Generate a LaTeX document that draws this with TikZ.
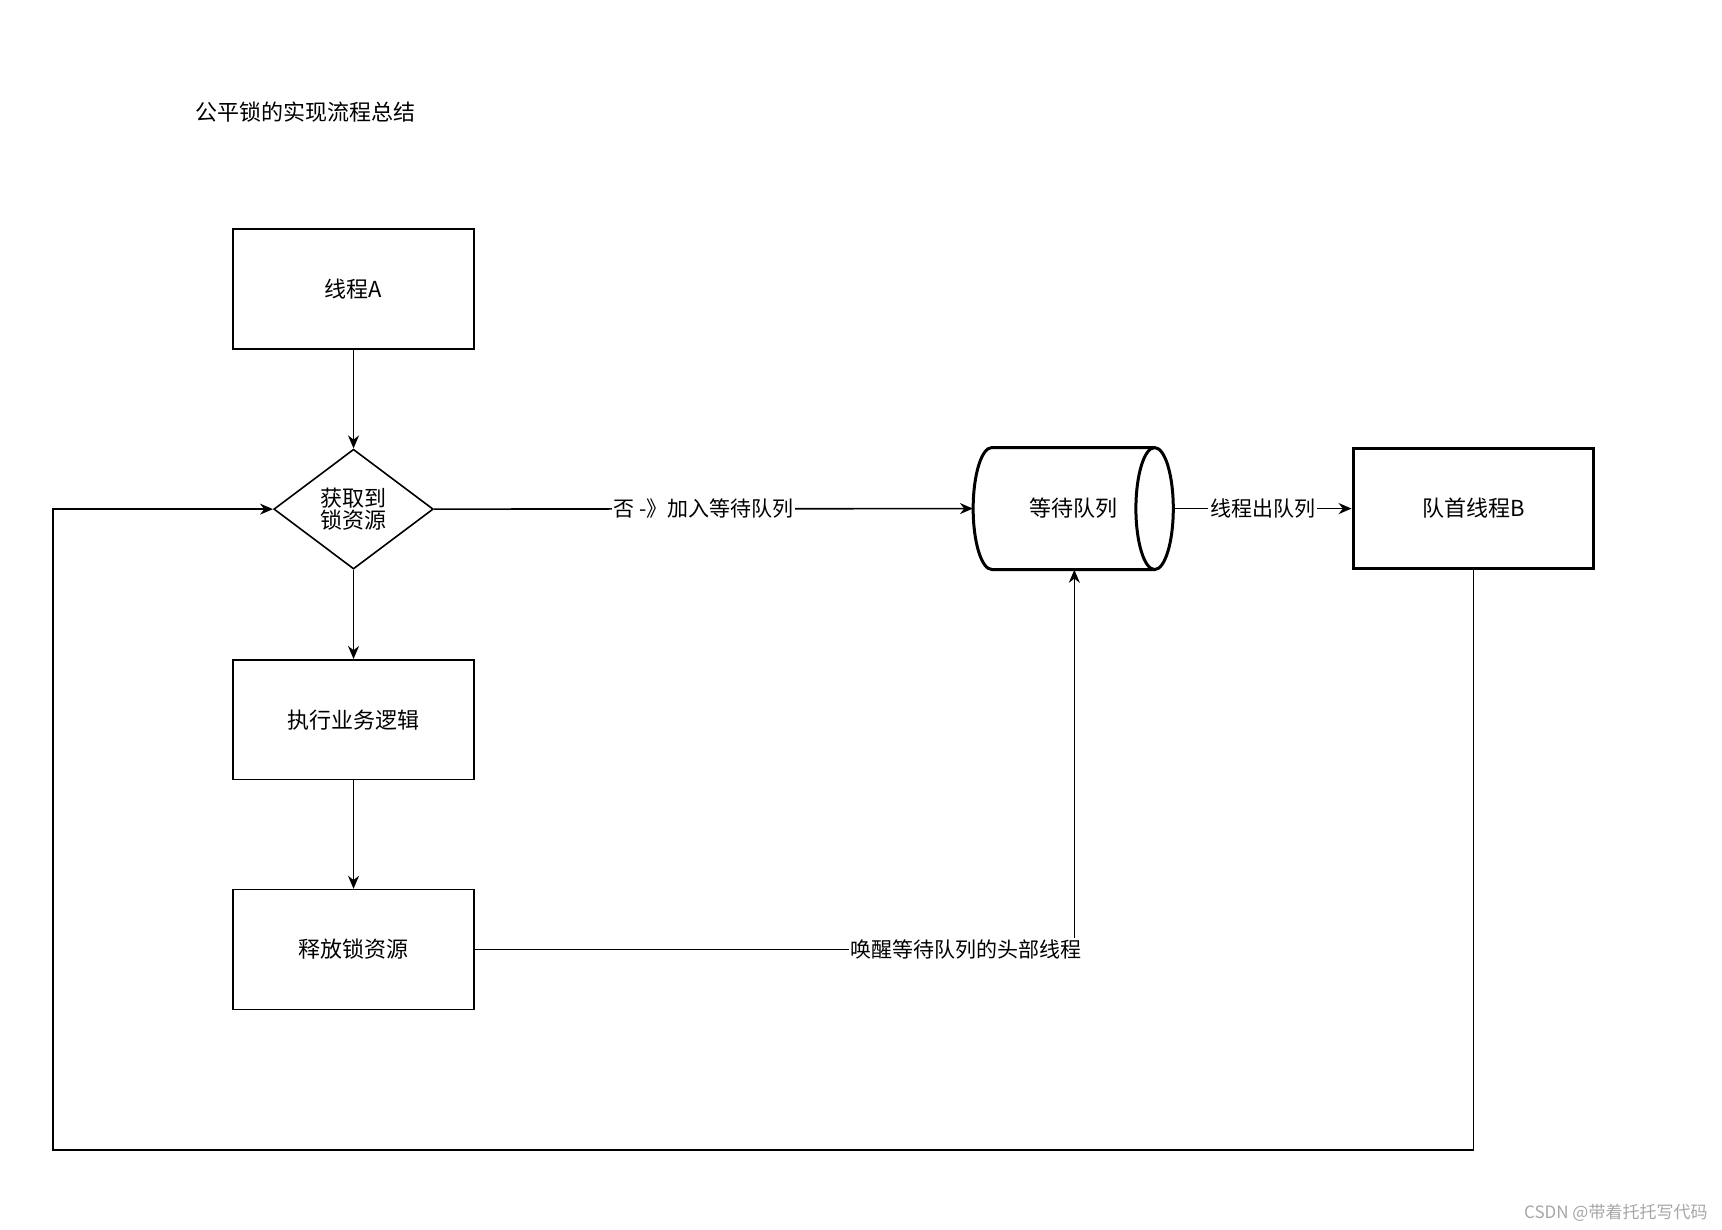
\documentclass[tikz,border=0pt]{standalone}
\usepackage{fontspec}
\setmainfont{Noto Sans CJK SC}
\usetikzlibrary{shapes.geometric,arrows.meta}
\begin{document}
\begin{tikzpicture}[x=1.1pt,y=-1.1pt,
  box/.style={draw,line width=1.6pt,minimum width=219*1.1pt,minimum height=109*1.1pt,inner sep=0pt,font=\fontsize{22}{26}\selectfont},
  tbox/.style={box,line width=3pt},
  lab/.style={fill=white,inner sep=2pt,font=\fontsize{21}{25}\selectfont},
  arr/.style={line width=1.6pt,-{Stealth[length=13pt,width=11pt]}},
  cyl/.style={line width=3pt}]
\useasboundingbox (0,0) rectangle (1566,1118);
\node[anchor=west,font=\fontsize{22}{26}\selectfont] (title) at (175,102) {公平锁的实现流程总结};
\node[box] (a) at (321.5,263) {线程A};
\node[draw,line width=1.6pt,diamond,minimum width=145*1.1pt,minimum height=109*1.1pt,inner sep=0pt,align=center,font=\fontsize{22}{26}\selectfont] (d) at (321.5,463) {获取到\\[-4pt]锁资源};
\node[box] (e) at (321.5,654.5) {执行业务逻辑};
\node[box] (r) at (321.5,863.5) {释放锁资源};
\node[minimum width=182*1.1pt,minimum height=111*1.1pt,inner sep=0pt,font=\fontsize{22}{26}\selectfont] (q) at (976,462.5) {等待队列};
\draw[cyl] (1050,407) -- (902,407) arc[start angle=90,end angle=270,x radius=18.7pt,y radius=61pt] -- (1050,518);
\draw[cyl] (1050,462.5) ellipse [x radius=18.7pt,y radius=61pt];
\node[tbox] (b) at (1340,462.5) {队首线程B};
\node[text=gray!70,anchor=east,font=\fontsize{17}{19}\selectfont] (wm) at (1556,1103) {CSDN @带着托托写代码};
\draw[arr] (a) -- (d);
\draw[arr] (d) -- (e);
\draw[arr] (e) -- (r);
\draw[arr] (d.east) -- node[lab]{否 -》加入等待队列} (q.west);
\draw[arr] (q.east) -- node[lab]{线程出队列} (b.west);
\coordinate (c1) at (977,863.5);
\draw[arr] (r.east) -- node[lab,pos=0.82]{唤醒等待队列的头部线程} (c1) -- (q.south -| c1);
\coordinate (l1) at (1340,1046);
\coordinate (l2) at (48,1046);
\coordinate (l3) at (48,463);
\draw[arr] (b.south) -- (l1) -- (l2) -- (l3) -- (d.west);
\end{tikzpicture}
\end{document}
